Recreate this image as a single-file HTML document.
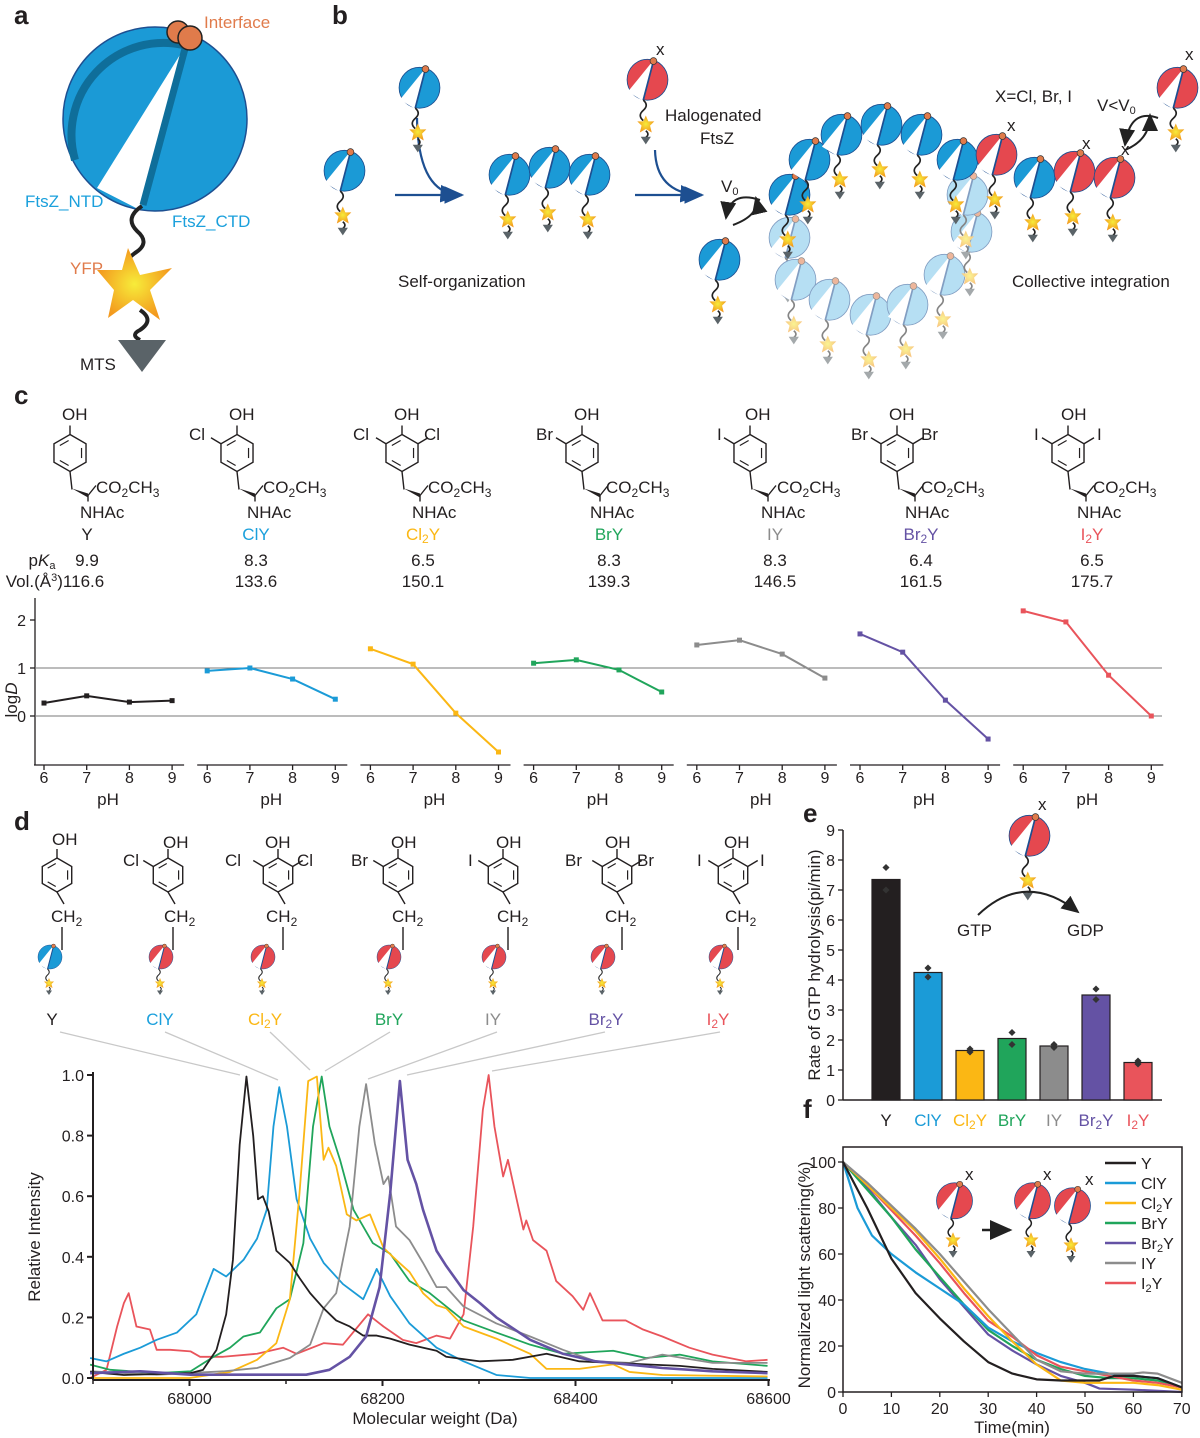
<!DOCTYPE html>
<html><head><meta charset="utf-8"><style>
body{margin:0;background:#fff}
svg{display:block;font-family:"Liberation Sans",Arial,sans-serif}
.t{font-size:17px;fill:#231f20}
.tk{font-size:16px;fill:#231f20}
.lab{font-size:26px;font-weight:bold;fill:#231f20}
</style></head><body>
<svg id="fig" width="1200" height="1438" viewBox="0 0 1200 1438">
<defs>
<radialGradient id="sg"><stop offset="0" stop-color="#f7ec3a"/><stop offset="1" stop-color="#f39a1e"/></radialGradient>
<symbol id="icon" viewBox="0 0 60 110">
<circle cx="30" cy="30" r="24" fill="currentColor" stroke="#1d4f91" stroke-width="1"/>
<polygon points="37,7 7,44 25,55" fill="#fff"/>
<line x1="37" y1="8" x2="25" y2="54" stroke="#1d4f91" stroke-width="2"/>
<circle cx="37" cy="8" r="4" fill="#e07b4b" stroke="#333" stroke-width="0.8"/>
<path d="M25 54 q7 6 0 12 q-7 6 0 12" fill="none" stroke="#222" stroke-width="2"/>
<polygon points="28,72 31,79 38,79 33,84 35,92 28,88 21,92 23,84 18,79 25,79" fill="url(#sg)"/>
<path d="M28 90 q5 4 0 8" fill="none" stroke="#222" stroke-width="2"/>
<polygon points="22,97 34,97 28,106" fill="#5a6368"/>
</symbol>
<marker id="ah" markerWidth="10" markerHeight="10" refX="8" refY="5" orient="auto"><path d="M0,1 L9,5 L0,9 z" fill="#1d4f91"/></marker>
<marker id="ahk" markerWidth="10" markerHeight="10" refX="8" refY="5" orient="auto"><path d="M0,1 L9,5 L0,9 z" fill="#222"/></marker>
</defs>

<!-- panel a -->
<g>
<text class="lab" x="14" y="24">a</text>
<circle cx="155" cy="119" r="92" fill="#1b9ad6" stroke="#1d4f91" stroke-width="1.5"/>
<path d="M183 45 A92 92 0 0 0 75 160" fill="none" stroke="#0f6e9a" stroke-width="8"/>
<polygon points="183,50 97,188 140,210" fill="#fff"/>
<line x1="186" y1="45" x2="143" y2="205" stroke="#0f6e9a" stroke-width="7"/>
<circle cx="178" cy="32" r="11" fill="#e07b4b" stroke="#222" stroke-width="1.5"/>
<circle cx="190" cy="38" r="12" fill="#e07b4b" stroke="#222" stroke-width="1.5"/>
<text x="204" y="28" font-size="17" fill="#e07b4b">Interface</text>
<text x="25" y="207" font-size="17" fill="#1ba0dc">FtsZ_NTD</text>
<text x="172" y="227" font-size="17" fill="#1ba0dc">FtsZ_CTD</text>
<path d="M142 206 q-18 12 -5 25 q14 12 -2 22 l-5 4" fill="none" stroke="#222" stroke-width="4"/>
<polygon points="128,248 140,275 172,268 150,290 160,320 133,300 108,318 114,290 97,270 122,270" fill="url(#sg)"/>
<text x="70" y="274" font-size="17" fill="#e07b4b">YFP</text>
<path d="M140 310 q15 10 0 20 q-10 5 0 10" fill="none" stroke="#222" stroke-width="4"/>
<polygon points="118,340 166,340 142,372" fill="#5a6368"/>
<text x="80" y="370" class="t">MTS</text>
</g>

<!-- panel b -->
<g>
<text class="lab" x="332" y="24">b</text>
<g fill="none" stroke="#1d4f91" stroke-width="2.2">
<line x1="395" y1="195" x2="462" y2="195" marker-end="url(#ah)"/>
<path d="M417 118 Q418 192 458 195" marker-end="url(#ah)"/>
<line x1="635" y1="195" x2="702" y2="195" marker-end="url(#ah)"/>
<path d="M655 150 Q656 192 698 195" marker-end="url(#ah)"/>
</g>
<g fill="none" stroke="#222" stroke-width="2">
<path d="M733 225 Q760 215 756 198" marker-end="url(#ahk)"/>
<path d="M760 200 Q730 190 726 218" marker-end="url(#ahk)"/>
<path d="M1125 150 Q1150 140 1150 115" marker-end="url(#ahk)"/>
<path d="M1158 118 Q1130 108 1125 145" marker-end="url(#ahk)"/>
</g>
<text x="721" y="192" class="t">V<tspan font-size="11" dy="3">0</tspan></text>
<text x="1097" y="111" class="t">V&lt;V<tspan font-size="11" dy="3">0</tspan></text>
<text x="995" y="102" class="t">X=Cl, Br, I</text>
<text x="665" y="121" class="t">Halogenated</text>
<text x="700" y="144" class="t">FtsZ</text>
<text x="398" y="287" class="t">Self-organization</text>
<text x="1012" y="287" class="t">Collective integration</text>
<g opacity="0.55" style="color:#7cc6ea">
<use href="#icon" x="764" y="212" width="51" height="94"/><use href="#icon" x="770" y="254" width="51" height="94"/>
<use href="#icon" x="804" y="274" width="51" height="94"/><use href="#icon" x="845" y="289" width="51" height="94"/>
<use href="#icon" x="882" y="279" width="51" height="94"/><use href="#icon" x="919" y="249" width="51" height="94"/>
<use href="#icon" x="946" y="206" width="51" height="94"/><use href="#icon" x="942" y="169" width="51" height="94"/>
</g>
<g style="color:#1b9ad6">
<use href="#icon" x="319" y="145" width="51" height="94"/><use href="#icon" x="394" y="62" width="51" height="94"/>
<use href="#icon" x="484" y="149" width="51" height="94"/><use href="#icon" x="524" y="142" width="51" height="94"/>
<use href="#icon" x="564" y="149" width="51" height="94"/><use href="#icon" x="694" y="234" width="51" height="94"/>
<use href="#icon" x="764" y="169" width="51" height="94"/><use href="#icon" x="784" y="134" width="51" height="94"/>
<use href="#icon" x="816" y="109" width="51" height="94"/><use href="#icon" x="856" y="99" width="51" height="94"/>
<use href="#icon" x="896" y="109" width="51" height="94"/><use href="#icon" x="932" y="134" width="51" height="94"/>
<use href="#icon" x="1009" y="152" width="51" height="94"/>
</g>
<g style="color:#e5484f">
<use href="#icon" x="622" y="54" width="51" height="94"/><use href="#icon" x="971" y="129" width="51" height="94"/>
<use href="#icon" x="1049" y="146" width="51" height="94"/><use href="#icon" x="1089" y="152" width="51" height="94"/>
<use href="#icon" x="1152" y="62" width="51" height="94"/>
</g>
<g class="t" font-size="15"><text x="656" y="55">x</text><text x="1007" y="131">x</text><text x="1082" y="149">x</text><text x="1121" y="155">x</text><text x="1185" y="60">x</text></g>
</g>

<!-- panel c -->
<g>
<text class="lab" x="14" y="404">c</text>
<g id="molsC"></g>
<g class="t" id="molTextC">
<text x="62" y="420">OH</text><text x="96" y="493">CO<tspan font-size="12" dy="4">2</tspan><tspan dy="-4">CH</tspan><tspan font-size="12" dy="4">3</tspan></text><text x="80" y="518">NHAc</text>
<text x="229" y="420">OH</text><text x="189" y="440">Cl</text><text x="263" y="493">CO<tspan font-size="12" dy="4">2</tspan><tspan dy="-4">CH</tspan><tspan font-size="12" dy="4">3</tspan></text><text x="247" y="518">NHAc</text>
<text x="394" y="420">OH</text><text x="353" y="440">Cl</text><text x="424" y="440">Cl</text><text x="428" y="493">CO<tspan font-size="12" dy="4">2</tspan><tspan dy="-4">CH</tspan><tspan font-size="12" dy="4">3</tspan></text><text x="412" y="518">NHAc</text>
<text x="574" y="420">OH</text><text x="536" y="440">Br</text><text x="606" y="493">CO<tspan font-size="12" dy="4">2</tspan><tspan dy="-4">CH</tspan><tspan font-size="12" dy="4">3</tspan></text><text x="590" y="518">NHAc</text>
<text x="745" y="420">OH</text><text x="717" y="440">I</text><text x="777" y="493">CO<tspan font-size="12" dy="4">2</tspan><tspan dy="-4">CH</tspan><tspan font-size="12" dy="4">3</tspan></text><text x="761" y="518">NHAc</text>
<text x="889" y="420">OH</text><text x="851" y="440">Br</text><text x="921" y="440">Br</text><text x="921" y="493">CO<tspan font-size="12" dy="4">2</tspan><tspan dy="-4">CH</tspan><tspan font-size="12" dy="4">3</tspan></text><text x="905" y="518">NHAc</text>
<text x="1061" y="420">OH</text><text x="1034" y="440">I</text><text x="1097" y="440">I</text><text x="1093" y="493">CO<tspan font-size="12" dy="4">2</tspan><tspan dy="-4">CH</tspan><tspan font-size="12" dy="4">3</tspan></text><text x="1077" y="518">NHAc</text>
</g>
<g font-size="17" text-anchor="middle">
<text x="87" y="540" fill="#231f20">Y</text><text x="256" y="540" fill="#1ba0dc">ClY</text>
<text x="423" y="540" fill="#fbb714">Cl<tspan font-size="12" dy="3">2</tspan><tspan dy="-3">Y</tspan></text>
<text x="609" y="540" fill="#20a55b">BrY</text><text x="775" y="540" fill="#8c8c8c">IY</text>
<text x="921" y="540" fill="#6452a4">Br<tspan font-size="12" dy="3">2</tspan><tspan dy="-3">Y</tspan></text>
<text x="1092" y="540" fill="#e9545b">I<tspan font-size="12" dy="3">2</tspan><tspan dy="-3">Y</tspan></text>
</g>
<g class="t" text-anchor="middle">
<text x="42" y="566">p<tspan font-style="italic">K</tspan><tspan font-size="11" dy="3">a</tspan></text>
<text x="87" y="566">9.9</text><text x="256" y="566">8.3</text><text x="423" y="566">6.5</text><text x="609" y="566">8.3</text><text x="775" y="566">8.3</text><text x="921" y="566">6.4</text><text x="1092" y="566">6.5</text>
<text x="55" y="587">Vol.(Å<tspan font-size="11" dy="-6">3</tspan><tspan dy="6">)116.6</tspan></text>
<text x="256" y="587">133.6</text><text x="423" y="587">150.1</text><text x="609" y="587">139.3</text><text x="775" y="587">146.5</text><text x="921" y="587">161.5</text><text x="1092" y="587">175.7</text>
</g>
<g id="logd"></g>
<text class="t" transform="translate(17,700) rotate(-90)" text-anchor="middle">log<tspan font-style="italic">D</tspan></text>
</g>

<!-- panel d -->
<g>
<text class="lab" x="14" y="830">d</text>
<g id="molsD"></g>
<g class="t">
<text x="52" y="845">OH</text><text x="51" y="922">CH<tspan font-size="12" dy="4">2</tspan></text>
<text x="163" y="848">OH</text><text x="123" y="866">Cl</text><text x="164" y="922">CH<tspan font-size="12" dy="4">2</tspan></text>
<text x="265" y="848">OH</text><text x="225" y="866">Cl</text><text x="297" y="866">Cl</text><text x="266" y="922">CH<tspan font-size="12" dy="4">2</tspan></text>
<text x="391" y="848">OH</text><text x="351" y="866">Br</text><text x="392" y="922">CH<tspan font-size="12" dy="4">2</tspan></text>
<text x="496" y="848">OH</text><text x="468" y="866">I</text><text x="497" y="922">CH<tspan font-size="12" dy="4">2</tspan></text>
<text x="605" y="848">OH</text><text x="565" y="866">Br</text><text x="637" y="866">Br</text><text x="605" y="922">CH<tspan font-size="12" dy="4">2</tspan></text>
<text x="724" y="848">OH</text><text x="697" y="866">I</text><text x="760" y="866">I</text><text x="725" y="922">CH<tspan font-size="12" dy="4">2</tspan></text>
</g>
<use href="#icon" x="35" y="942" width="30" height="55" style="color:#1b9ad6"/>
<g style="color:#e5484f">
<use href="#icon" x="146" y="942" width="30" height="55"/><use href="#icon" x="248" y="942" width="30" height="55"/>
<use href="#icon" x="374" y="942" width="30" height="55"/><use href="#icon" x="479" y="942" width="30" height="55"/>
<use href="#icon" x="588" y="942" width="30" height="55"/><use href="#icon" x="706" y="942" width="30" height="55"/>
</g>
<g font-size="17" text-anchor="middle">
<text x="52" y="1025" fill="#231f20">Y</text><text x="160" y="1025" fill="#1ba0dc">ClY</text>
<text x="265" y="1025" fill="#fbb714">Cl<tspan font-size="12" dy="3">2</tspan><tspan dy="-3">Y</tspan></text>
<text x="389" y="1025" fill="#20a55b">BrY</text><text x="493" y="1025" fill="#8c8c8c">IY</text>
<text x="606" y="1025" fill="#6452a4">Br<tspan font-size="12" dy="3">2</tspan><tspan dy="-3">Y</tspan></text>
<text x="718" y="1025" fill="#e9545b">I<tspan font-size="12" dy="3">2</tspan><tspan dy="-3">Y</tspan></text>
</g>
<g stroke="#c8c8c8" stroke-width="1.3">
<line x1="60" y1="1032" x2="240" y2="1075"/><line x1="165" y1="1032" x2="278" y2="1080"/>
<line x1="270" y1="1032" x2="310" y2="1070"/><line x1="390" y1="1032" x2="325" y2="1071"/>
<line x1="497" y1="1032" x2="368" y2="1079"/><line x1="605" y1="1032" x2="407" y2="1075"/>
<line x1="720" y1="1032" x2="492" y2="1071"/>
</g>
<g id="spec"></g>
<text class="t" transform="translate(40,1237) rotate(-90)" text-anchor="middle">Relative Intensity</text>
<text class="t" x="435" y="1424" text-anchor="middle">Molecular weight (Da)</text>
</g>

<!-- panel e -->
<g>
<text class="lab" x="803" y="822">e</text>
<g id="bars"></g>
<text class="t" transform="translate(820,965) rotate(-90)" text-anchor="middle">Rate of GTP hydrolysis(pi/min)</text>
<use href="#icon" x="1004" y="810" width="51" height="94" style="color:#e5484f"/>
<text class="t" x="1038" y="810" font-size="15">x</text>
<path d="M978 915 Q1025 870 1078 912" fill="none" stroke="#222" stroke-width="2" marker-end="url(#ahk)"/>
<text class="t" x="957" y="936">GTP</text><text class="t" x="1067" y="936">GDP</text>
</g>

<!-- panel f -->
<g>
<text class="lab" x="803" y="1118">f</text>
<g id="lsc"></g>
<g style="color:#e5484f">
<use href="#icon" x="932" y="1178" width="45" height="83"/><use href="#icon" x="1010" y="1178" width="45" height="83"/>
<use href="#icon" x="1050" y="1183" width="45" height="83"/>
</g>
<g class="t" font-size="15"><text x="965" y="1180">x</text><text x="1043" y="1180">x</text><text x="1085" y="1185">x</text></g>
<line x1="982" y1="1230" x2="1010" y2="1230" stroke="#222" stroke-width="2.5" marker-end="url(#ahk)"/>
<text class="t" transform="translate(810,1275) rotate(-90)" text-anchor="middle" font-size="15">Normalized light scattering(%)</text>
<text class="t" x="1012" y="1433" text-anchor="middle" font-size="16">Time(min)</text>
</g>
</svg>

<script>
// ---------- DATA ----------
const colY="#231f20", colClY="#1b9bd7", colCl2Y="#fbb714", colBrY="#20a55b", colIY="#8c8c8c", colBr2Y="#6452a4", colI2Y="#e9545b";
const seriesNames=["Y","ClY","Cl2Y","BrY","IY","Br2Y","I2Y"];
const seriesColors=[colY,colClY,colCl2Y,colBrY,colIY,colBr2Y,colI2Y];

// panel c logD
const phValues=[6,7,8,9];
const phTicks=["6","7","8","9"];
const logDTicks=[0,1,2];
const logD_Y=[0.27,0.42,0.29,0.32];
const logD_ClY=[0.94,1.0,0.77,0.35];
const logD_Cl2Y=[1.4,1.08,0.06,-0.75];
const logD_BrY=[1.1,1.17,0.96,0.5];
const logD_IY=[1.48,1.58,1.29,0.79];
const logD_Br2Y=[1.71,1.33,0.33,-0.48];
const logD_I2Y=[2.19,1.96,0.85,0.0];

// panel d spectra
const mass_Y=[67897,67932,68001,68014,68028,68038,68045,68052,68059,68066,68071,68076,68082,68090,68104,68114,68125,68139,68152,68166,68180,68194,68208,68228,68256,68266,68301,68335,68370,68404,68439,68473,68508,68542,68599];
const int_Y=[0.02,0.01,0.016,0.027,0.093,0.21,0.39,0.77,0.995,0.80,0.59,0.60,0.55,0.42,0.38,0.33,0.28,0.23,0.19,0.17,0.14,0.14,0.13,0.11,0.09,0.07,0.055,0.06,0.08,0.055,0.05,0.045,0.04,0.03,0.02];
const mass_ClY=[67897,67914,67932,67949,67966,67987,68007,68025,68038,68056,68070,68080,68087,68093,68101,68111,68125,68139,68159,68180,68194,68208,68228,68256,68284,68318,68353,68599];
const int_ClY=[0.066,0.055,0.08,0.10,0.126,0.15,0.21,0.36,0.335,0.39,0.46,0.555,0.83,0.96,0.83,0.59,0.46,0.38,0.31,0.26,0.36,0.27,0.18,0.10,0.055,0.01,0,0];
const mass_Cl2Y=[67897,68000,68042,68070,68090,68104,68114,68123,68132,68139,68144,68152,68163,68173,68187,68201,68214,68228,68242,68256,68266,68284,68318,68353,68370,68404,68439,68456,68490,68599];
const int_Cl2Y=[0,0,0.02,0.06,0.115,0.26,0.61,0.98,0.995,0.72,0.76,0.70,0.54,0.52,0.54,0.43,0.39,0.35,0.28,0.24,0.23,0.17,0.13,0.08,0.03,0.03,0.045,0.02,0.01,0.005];
const mass_BrY=[67897,67918,67966,68001,68025,68042,68056,68073,68090,68104,68118,68128,68137,68145,68156,68170,68190,68208,68228,68249,68284,68318,68353,68387,68439,68473,68508,68542,68599];
const int_BrY=[0.044,0.027,0.016,0.022,0.07,0.10,0.137,0.15,0.23,0.26,0.445,0.83,0.995,0.83,0.72,0.555,0.445,0.41,0.32,0.28,0.19,0.15,0.11,0.08,0.09,0.066,0.077,0.055,0.04];
const mass_IY=[67897,67966,68035,68070,68104,68125,68139,68152,68166,68176,68183,68192,68201,68206,68214,68228,68242,68256,68266,68284,68318,68353,68387,68421,68456,68490,68542,68599];
const int_IY=[0.022,0.011,0.022,0.033,0.066,0.11,0.23,0.28,0.50,0.83,0.97,0.775,0.64,0.665,0.50,0.455,0.38,0.30,0.30,0.236,0.18,0.137,0.093,0.055,0.05,0.077,0.05,0.05];
const mass_Br2Y=[67897,67949,68001,68070,68121,68145,68166,68183,68197,68208,68218,68226,68235,68242,68256,68266,68284,68301,68318,68353,68387,68421,68456,68490,68542,68599];
const int_Br2Y=[0.016,0.022,0.011,0.011,0.011,0.027,0.07,0.137,0.30,0.61,0.98,0.72,0.64,0.555,0.42,0.37,0.29,0.247,0.20,0.126,0.08,0.055,0.044,0.033,0.022,0.016];
const mass_I2Y=[67897,67914,67925,67932,67937,67945,67959,67966,67980,68001,68011,68035,68070,68097,68111,68139,68159,68185,68201,68221,68235,68256,68270,68284,68294,68304,68310,68316,68325,68330,68339,68346,68349,68356,68370,68380,68397,68408,68415,68428,68452,68470,68490,68518,68542,68577,68599];
const int_I2Y=[0,0.027,0.17,0.247,0.28,0.17,0.16,0.093,0.093,0.088,0.07,0.07,0.08,0.10,0.08,0.115,0.11,0.21,0.17,0.126,0.115,0.14,0.13,0.21,0.50,0.885,1.0,0.83,0.665,0.72,0.59,0.49,0.52,0.455,0.42,0.32,0.27,0.225,0.28,0.19,0.19,0.16,0.137,0.10,0.077,0.055,0.06];
const massTicks=[68000,68200,68400,68600];
const massMinor=[67900,68100,68300,68500];
const intTicks=[0,0.2,0.4,0.6,0.8,1.0];
const intTickLabels=["0.0","0.2","0.4","0.6","0.8","1.0"];

// panel e
const gtpRates=[7.35,4.25,1.65,2.05,1.8,3.5,1.25];
const gtpRep1=[7.75,4.4,1.7,2.25,1.85,3.7,1.3];
const gtpRep2=[7.0,4.1,1.6,1.85,1.75,3.35,1.2];
const gtpTicks=[0,1,2,3,4,5,6,7,8,9];

// panel f
const time_Y=[0,5,10,15,20,25,30,35,40,45,50,53,56,60,65,70];
const lsc_Y=[100,80,58,43,32,22,13,8,5.5,5,5,5,7,7,6,2];
const time_ClY=[0,3,6,10,15,20,25,30,35,40,45,50,55,60,65,70];
const lsc_ClY=[100,80,68,60,52,45,38,28,22,17,13,10,8,7,6,2];
const time_Cl2Y=[0,5,10,15,20,25,30,35,40,45,50,55,60,65,70];
const lsc_Cl2Y=[100,90,80,70,58,45,33,22,12,5,4,4,4,3,1];
const time_BrY=[0,5,10,15,20,25,30,35,40,45,50,55,60,65,70];
const lsc_BrY=[100,88,76,62,50,38,27,20,14,10,7,6,6,5,2];
const time_Br2Y=[0,5,10,15,20,25,30,35,40,45,50,53,60,70];
const lsc_Br2Y=[100,89,76,64,49,37,25,18,12,7,4,1.5,1,0];
const time_IY=[0,5,10,15,20,25,30,35,40,45,50,55,60,62,65,70];
const lsc_IY=[100,91,81,71,60,48,36,25,14,9,8,8,8,8.5,8,4];
const time_I2Y=[0,5,10,15,20,25,30,35,40,45,50,55,60,65,70];
const lsc_I2Y=[100,90,79,68,56,43,31,24,16,11,9,7,5,4,2];
const timeTicks=[0,10,20,30,40,50,60,70];
const lscTicks=[0,20,40,60,80,100];
const legendOrder=["Y","ClY","Cl2Y","BrY","Br2Y","IY","I2Y"];
const legendColors=[colY,colClY,colCl2Y,colBrY,colBr2Y,colIY,colI2Y];

// ---------- helpers ----------
const NS="http://www.w3.org/2000/svg";
function mk(parent,tag,attrs){const e=document.createElementNS(NS,tag);for(const k in attrs)e.setAttribute(k,attrs[k]);parent.appendChild(e);return e;}
function line(p,x1,y1,x2,y2,c,w){return mk(p,"line",{x1,y1,x2,y2,stroke:c||"#231f20","stroke-width":w||1.3});}
function txt(p,x,y,s,anchor,size){const t=mk(p,"text",{x,y,"text-anchor":anchor||"middle","font-size":size||16,fill:"#231f20"});t.textContent=s;return t;}

// molecules
function ring(p,cx,cy,r,subs,tailPath){
  const pts=[];for(let i=0;i<6;i++){const a=-Math.PI/2+i*Math.PI/3;pts.push([cx+r*Math.cos(a),cy+r*Math.sin(a)]);}
  mk(p,"polygon",{points:pts.map(q=>q.join(",")).join(" "),fill:"none",stroke:"#231f20","stroke-width":1.4});
  [[1,2],[3,4],[5,0]].forEach(([a,b])=>{const f=0.72;const A=pts[a],B=pts[b];
    const ax=cx+(A[0]-cx)*f,ay=cy+(A[1]-cy)*f,bx=cx+(B[0]-cx)*f,by=cy+(B[1]-cy)*f;
    line(p,ax+(bx-ax)*0.12,ay+(by-ay)*0.12,bx-(bx-ax)*0.12,by-(by-ay)*0.12,"#231f20",1.2);});
  line(p,pts[0][0],pts[0][1],cx,cy-r-9,"#231f20",1.4);
  if(subs.l)line(p,pts[5][0],pts[5][1],pts[5][0]-10,pts[5][1]-6,"#231f20",1.4);
  if(subs.r)line(p,pts[1][0],pts[1][1],pts[1][0]+10,pts[1][1]-6,"#231f20",1.4);
  mk(p,"path",{d:tailPath(pts[3]),fill:"none",stroke:"#231f20","stroke-width":1.4});
}
const gC=document.getElementById("molsC");
const cxC=[70,237,402,582,750,897,1068];
const subsC=[{},{l:1},{l:1,r:1},{l:1},{l:1},{l:1,r:1},{l:1,r:1}];
cxC.forEach((cx,i)=>{
  ring(gC,cx,453,18.5,subsC[i],b=>`M${b[0]} ${b[1]} L${b[0]+2} ${b[1]+18} M${b[0]+18} ${b[1]+24} L${b[0]+26} ${b[1]+14} M${b[0]+18} ${b[1]+24} L${b[0]+18} ${b[1]+30}`);
  mk(gC,"polygon",{points:`${cx+2},${471.5+17} ${cx+18},${471.5+22} ${cx+18},${471.5+26}`,fill:"#231f20"});
});
const gD=document.getElementById("molsD");
const cxD=[57,168,278,398,503,617,733];
const subsD=[{},{l:1},{l:1,r:1},{l:1},{l:1},{l:1,r:1},{l:1,r:1}];
cxD.forEach((cx,i)=>{
  ring(gD,cx,875,17,subsD[i],b=>`M${b[0]} ${b[1]} L${b[0]+7} ${b[1]+12} M${b[0]+5} ${b[1]+35} L${b[0]+5} ${b[1]+58}`);
});

// logD chart
const gL=document.getElementById("logd");
const lY=v=>716-v*48;
const lX=(i,ph)=>44+163.2*i+(ph-6)*42.7;
line(gL,35,598,35,765,"#231f20",1.3);
logDTicks.forEach(v=>{line(gL,30,lY(v),35,lY(v));txt(gL,26,lY(v)+6,String(v),"end",16);});
line(gL,35,668,1162,668,"#7a7a7a",1);line(gL,35,716,1162,716,"#7a7a7a",1);
const logDSeries=[logD_Y,logD_ClY,logD_Cl2Y,logD_BrY,logD_IY,logD_Br2Y,logD_I2Y];
logDSeries.forEach((arr,i)=>{
  const x0=lX(i,6)-10,x1=lX(i,9)+12;
  line(gL,x0,765,x1,765,"#231f20",1.3);
  phValues.forEach((ph,k)=>{line(gL,lX(i,ph),765,lX(i,ph),770);txt(gL,lX(i,ph),783,phTicks[k],"middle",16);});
  txt(gL,(lX(i,6)+lX(i,9))/2,805,"pH","middle",17);
  const pl=mk(gL,"polyline",{points:arr.map((v,k)=>lX(i,phValues[k])+","+lY(v)).join(" "),fill:"none",stroke:seriesColors[i],"stroke-width":2});
  
  
  arr.forEach((v,k)=>{const m=mk(gL,"rect",{x:lX(i,phValues[k])-2.5,y:lY(v)-2.5,width:5,height:5,fill:seriesColors[i]});
    
    });
});

// spectra
const gS=document.getElementById("spec");
const sX=m=>93+(m-67900)*0.965, sY=v=>1378-v*303;
const specM=[mass_Y,mass_ClY,mass_Cl2Y,mass_BrY,mass_IY,mass_Br2Y,mass_I2Y];
const specI=[int_Y,int_ClY,int_Cl2Y,int_BrY,int_IY,int_Br2Y,int_I2Y];
const drawOrder=[6,1,3,2,4,0,5];
drawOrder.forEach(i=>{
  const p=mk(gS,"polyline",{points:specM[i].map((m,k)=>sX(m)+","+sY(specI[i][k])).join(" "),fill:"none",stroke:seriesColors[i],"stroke-width":i===5?2.6:1.8,"stroke-linejoin":"round"});
  
  
});
line(gS,93,1072,93,1380,"#231f20",2);line(gS,93,1380,770,1380,"#231f20",2);
intTicks.forEach((v,k)=>{line(gS,87,sY(v),93,sY(v),"#231f20",2);txt(gS,84,sY(v)+6,intTickLabels[k],"end",16);});
massTicks.forEach(m=>{line(gS,sX(m),1380,sX(m),1386,"#231f20",2);txt(gS,sX(m),1404,String(m),"middle",16);});
massMinor.forEach(m=>line(gS,sX(m),1380,sX(m),1384,"#231f20",1.5));

// bars
const gB=document.getElementById("bars");
const bY=v=>1100-v*30;
line(gB,843,830,843,1100,"#231f20",1.5);line(gB,843,1100,1162,1100,"#231f20",1.5);
gtpTicks.forEach(v=>{line(gB,838,bY(v),843,bY(v));txt(gB,835,bY(v)+6,String(v),"end",16);});
gtpRates.forEach((v,i)=>{
  const cx=886+42*i;
  const r=mk(gB,"rect",{x:cx-14,y:bY(v),width:28,height:v*30,fill:seriesColors[i],stroke:"#231f20","stroke-width":1.2});
  
  
  [gtpRep1[i],gtpRep2[i]].forEach(d=>{mk(gB,"rect",{x:cx-2.5,y:bY(d)-2.5,width:5,height:5,fill:"#333",transform:`rotate(45 ${cx} ${bY(d)})`});});
  const t=mk(gB,"text",{x:cx,y:1126,"text-anchor":"middle","font-size":17,fill:seriesColors[i]});
  const nm=seriesNames[i];
  if(nm.indexOf("2")>0){const a=nm.split("2");t.textContent=a[0];const s=mk(t,"tspan",{"font-size":12,dy:3});s.textContent="2";const s2=mk(t,"tspan",{dy:-3});s2.textContent=a[1];}
  else t.textContent=nm;
});

// light scattering
const gF=document.getElementById("lsc");
const fX=t=>843+t*4.84, fY=v=>1392-v*2.3;
const tArr=[time_Y,time_ClY,time_Cl2Y,time_BrY,time_IY,time_Br2Y,time_I2Y];
const vArr=[lsc_Y,lsc_ClY,lsc_Cl2Y,lsc_BrY,lsc_IY,lsc_Br2Y,lsc_I2Y];
[5,3,1,6,2,4,0].forEach(i=>{
  const p=mk(gF,"polyline",{points:tArr[i].map((t,k)=>fX(t)+","+fY(vArr[i][k])).join(" "),fill:"none",stroke:seriesColors[i],"stroke-width":2.2,"stroke-linejoin":"round"});
  
  
});
mk(gF,"rect",{x:843,y:1147,width:339,height:245,fill:"none",stroke:"#231f20","stroke-width":1.5});
timeTicks.forEach(t=>{line(gF,fX(t),1392,fX(t),1397);txt(gF,fX(t),1414,String(t),"middle",16);});
lscTicks.forEach(v=>{line(gF,838,fY(v),843,fY(v));txt(gF,836,fY(v)+6,String(v),"end",16);});
legendOrder.forEach((nm,k)=>{
  const y=1163+20*k;
  const l=line(gF,1105,y,1136,y,legendColors[k],2.5);
  
  
  const t=mk(gF,"text",{x:1141,y:y+6,"font-size":16,fill:"#231f20"});
  if(nm.indexOf("2")>0){const a=nm.split("2");t.textContent=a[0];const s=mk(t,"tspan",{"font-size":11,dy:3});s.textContent="2";const s2=mk(t,"tspan",{dy:-3});s2.textContent=a[1];}
  else t.textContent=nm;
});
</script>
</body></html>
